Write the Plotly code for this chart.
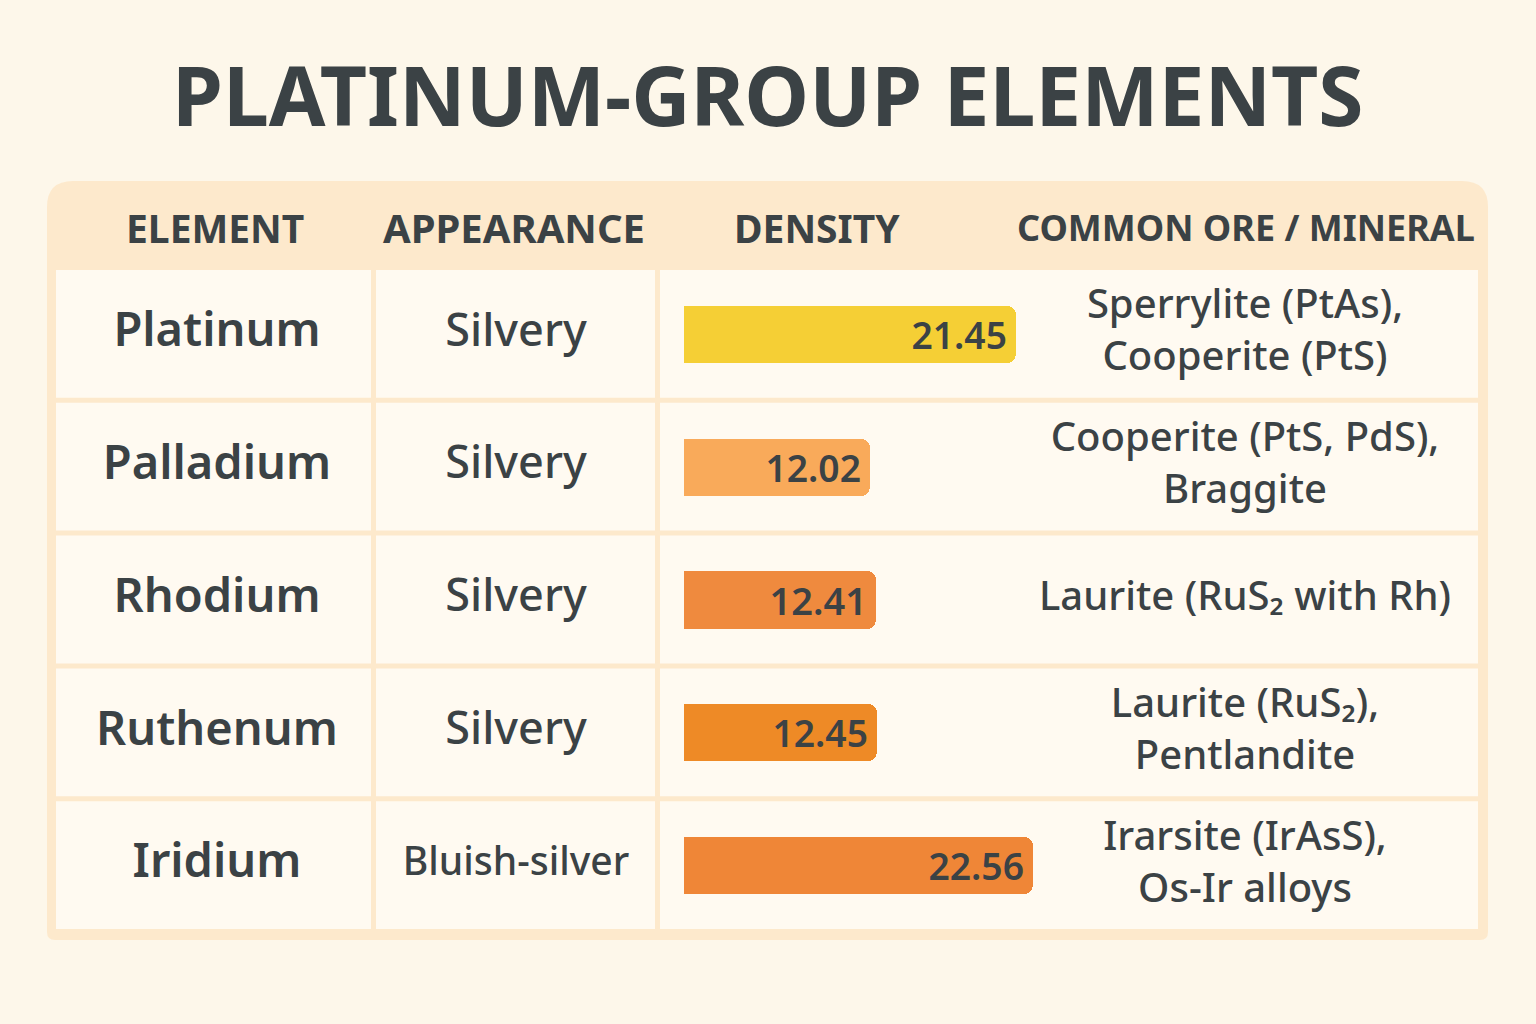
import plotly.graph_objects as go

W, H = 1536, 1024

title = "PLATINUM-GROUP ELEMENTS"
headers = ["ELEMENT", "APPEARANCE", "DENSITY", "COMMON ORE / MINERAL"]
elements = ["Platinum", "Palladium", "Rhodium", "Ruthenum", "Iridium"]
appearance = ["Silvery", "Silvery", "Silvery", "Silvery", "Bluish-silver"]
density = [21.45, 12.02, 12.41, 12.45, 22.56]
ores = [
    "Sperrylite (PtAs),<br>Cooperite (PtS)",
    "Cooperite (PtS, PdS),<br>Braggite",
    "Laurite (RuS₂ with Rh)",
    "Laurite (RuS₂),<br>Pentlandite",
    "Irarsite (IrAsS),<br>Os-Ir alloys",
]
bar_colors = ["#f5cf35", "#f9aa5a", "#ef8a3e", "#ee8a26", "#ef8637"]

FONT = "Noto Sans"
INK = "#3b4245"
BG = "#fdf7ea"
PANEL = "#fde9cc"
CELL = "#fffaf1"

# layout helpers (pixels -> paper)
def px(x):
    return x / W

def py(y):
    return 1 - y / H

def rrect(x0, y0, x1, y1, rt, rb):
    p = f"M {px(x0)},{py(y0 + rt)} "
    p += f"Q {px(x0)},{py(y0)} {px(x0 + rt)},{py(y0)} "
    p += f"L {px(x1 - rt)},{py(y0)} Q {px(x1)},{py(y0)} {px(x1)},{py(y0 + rt)} "
    p += f"L {px(x1)},{py(y1 - rb)} Q {px(x1)},{py(y1)} {px(x1 - rb)},{py(y1)} "
    p += f"L {px(x0 + rb)},{py(y1)} Q {px(x0)},{py(y1)} {px(x0)},{py(y1 - rb)} Z"
    return p

rows_top, rows_bot = 268, 932
row_h = (rows_bot - rows_top) / len(elements)
col_edges = [(56, 371), (376, 655), (660, 1478)]

shapes = [dict(type="path", xref="paper", yref="paper",
               path=rrect(47, 181, 1488, 940, 26, 8),
               fillcolor=PANEL, line=dict(width=0), layer="below")]
for i in range(len(elements)):
    y0 = rows_top + i * row_h
    for c0, c1 in col_edges:
        shapes.append(dict(type="rect", xref="paper", yref="paper",
                           x0=px(c0), x1=px(c1), y0=py(y0 + 2), y1=py(y0 + row_h - 3),
                           fillcolor=CELL, line=dict(width=0), layer="below"))

fig = go.Figure()

fig.add_trace(go.Scatter(
    x=[217] * len(elements), y=elements, mode="text", text=elements,
    textfont=dict(family=FONT, size=47, color=INK, weight=600),
    hoverinfo="skip", showlegend=False))

fig.add_trace(go.Scatter(
    x=[516] * len(elements), y=elements, mode="text", text=appearance,
    textfont=dict(family=FONT, size=[45 if a == "Silvery" else 39 for a in appearance],
                  color=INK, weight=500),
    hoverinfo="skip", showlegend=False))

fig.add_trace(go.Scatter(
    x=[1245] * len(elements), y=elements, mode="text", text=ores,
    textfont=dict(family=FONT, size=40, color=INK, weight=500),
    hoverinfo="skip", showlegend=False))

fig.add_trace(go.Bar(
    x=density, y=elements, orientation="h", xaxis="x2", yaxis="y",
    marker=dict(color=bar_colors, line=dict(width=0), cornerradius=9),
    width=0.43, text=[f"{d:.2f}" for d in density],
    textposition="inside", insidetextanchor="end",
    textfont=dict(family=FONT, size=38, color=INK, weight=600),
    constraintext="none", cliponaxis=False,
    hoverinfo="skip", showlegend=False))

annotations = [dict(text=f"<b>{title}</b>", x=px(768), y=py(94), xref="paper", yref="paper",
                    showarrow=False, font=dict(family=FONT, size=82, color=INK),
                    xanchor="center", yanchor="middle")]
for h, cx, fs in zip(headers, [215, 514, 817, 1246], [39, 40, 39, 36]):
    annotations.append(dict(text=h, x=px(cx), y=py(227), xref="paper", yref="paper",
                            showarrow=False, xanchor="center", yanchor="middle",
                            font=dict(family=FONT, size=fs, color=INK, weight=700)))

fig.update_layout(
    width=W, height=H, autosize=False,
    margin=dict(l=0, r=0, t=0, b=0),
    paper_bgcolor=BG, plot_bgcolor="rgba(0,0,0,0)",
    shapes=shapes, annotations=annotations,
    xaxis=dict(range=[0, W], domain=[0, 1], visible=False, fixedrange=True),
    xaxis2=dict(range=[0, 22.56], domain=[px(684), px(1033)], visible=False,
                anchor="y", fixedrange=True),
    yaxis=dict(range=[len(elements) - 0.5, -0.5], domain=[py(rows_bot), py(rows_top)],
               visible=False, fixedrange=True, type="category"),
    bargap=0,
)

fig.write_html("out.html", config={"displayModeBar": False},
               post_script="document.body.style.margin = '0';")
